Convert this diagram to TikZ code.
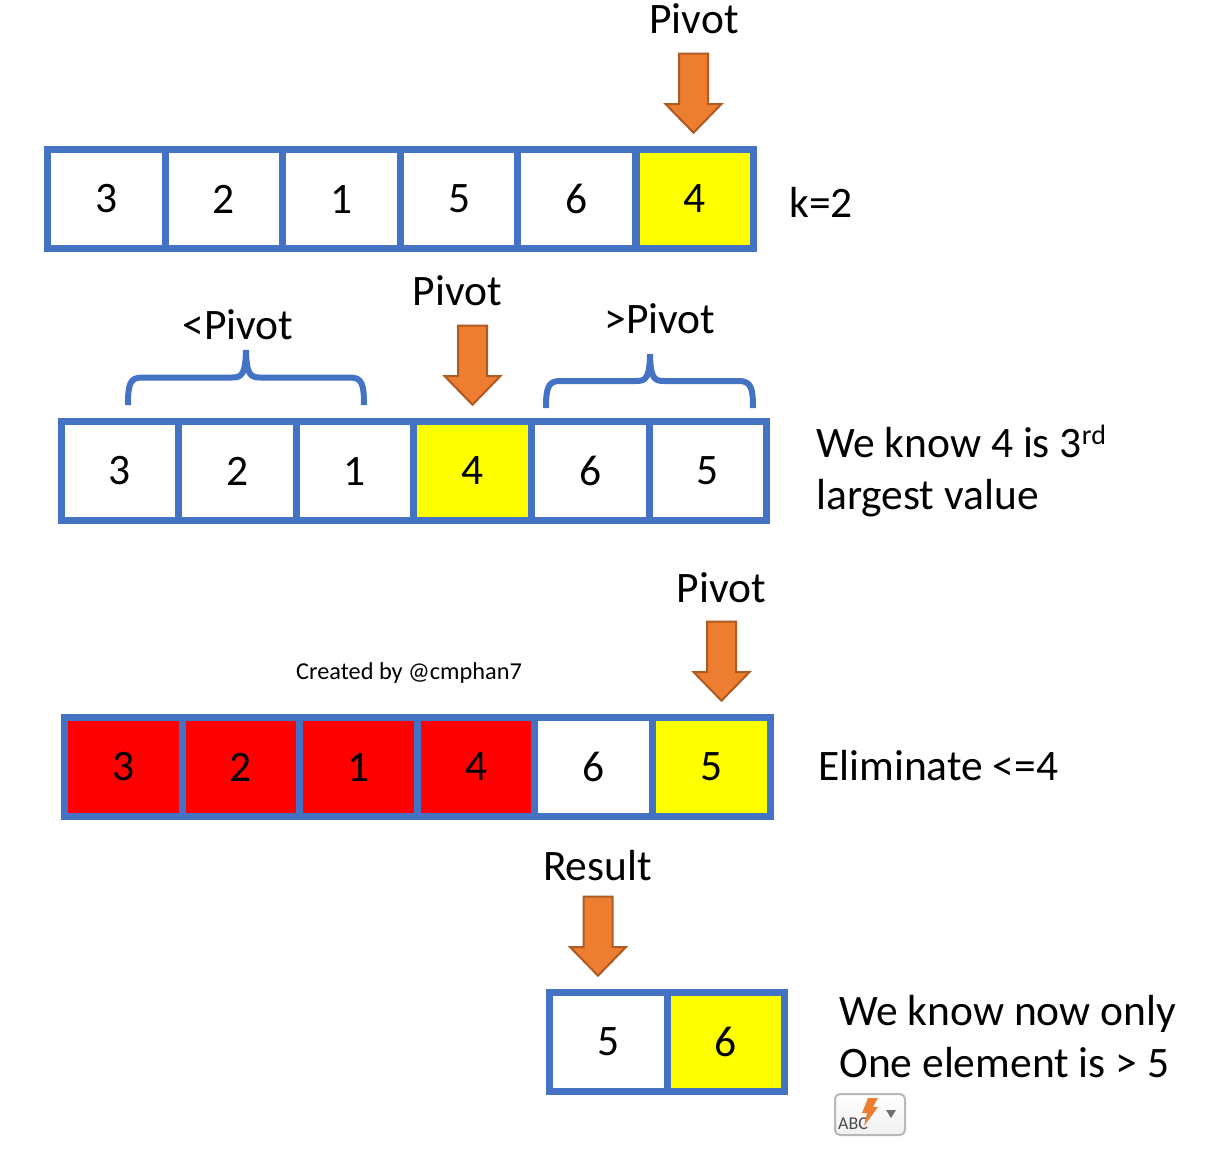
\documentclass[tikz,border=0pt]{standalone}
\usepackage{fontspec}
\setmainfont{Carlito}
\usetikzlibrary{calc}
\definecolor{cellblue}{HTML}{4472C4}
\definecolor{arrowfill}{HTML}{ED7D31}
\definecolor{arrowline}{HTML}{AE5A21}
\definecolor{iconline}{HTML}{B8B8B8}
\definecolor{icontext}{HTML}{4A4A4A}
\definecolor{hlyellow}{HTML}{FFFF00}
\definecolor{hlred}{HTML}{FF0000}
\tikzset{
  x=1pt,y=-1pt,
  cell/.style={draw=cellblue,line width=7pt,minimum width=117.6pt,minimum height=99pt,inner sep=0pt,font=\fontsize{43.5}{52}\selectfont,text=black},
  yel/.style={cell,fill=hlyellow},
  red/.style={cell,fill=hlred},
  lab/.style={inner sep=0pt,font=\fontsize{43.5}{52}\selectfont,text=black,align=left},
  pivotarrow/.style={draw=arrowline,fill=arrowfill,line width=2pt,miter limit=10},
  bracepath/.style={draw=cellblue,line width=6pt},
}
\newcommand{\pivdown}[2]{%
  \draw[pivotarrow] (#1-14.5,#2) -- (#1+14.5,#2) -- (#1+14.5,#2+50.5) -- (#1+28,#2+50.5) -- (#1,#2+79.2) -- (#1-28,#2+50.5) -- (#1-14.5,#2+50.5) -- cycle;}
\begin{document}
\begin{tikzpicture}
\useasboundingbox (0,0) rectangle (1206,1160);
% Row 1
\node[cell] (a1) at (106.3,199) {3};
\node[cell] (a2) at (223.9,199) {2};
\node[cell] (a3) at (341.5,199) {1};
\node[cell] (a4) at (459.1,199) {5};
\node[cell] (a5) at (576.7,199) {6};
\node[yel]  (a6) at (694.8,199) {4};
% Row 2
\node[cell] (b1) at (119.8,471) {3};
\node[cell] (b2) at (237.4,471) {2};
\node[cell] (b3) at (355,471) {1};
\node[yel]  (b4) at (472.6,471) {4};
\node[cell] (b5) at (590.2,471) {6};
\node[cell] (b6) at (707.8,471) {5};
% Row 3
\node[red]  (c1) at (123.3,767) {3};
\node[red]  (c2) at (240.9,767) {2};
\node[red]  (c3) at (358.5,767) {1};
\node[red]  (c4) at (476.1,767) {4};
\node[cell] (c5) at (593.7,767) {6};
\node[yel]  (c6) at (711.3,767) {5};
% Row 4
\node[cell] (d1) at (608.2,1042) {5};
\node[yel]  (d2) at (725.8,1042) {6};
% Arrows
\pivdown{693.5}{53.5}
\pivdown{472.5}{325.5}
\pivdown{721.5}{621.5}
\pivdown{598}{896.5}
% Braces
\draw[bracepath] (128,405) .. controls (128,384) and (130,377.5) .. (142,377.5) -- (232,377.5) .. controls (242,377.5) and (245.5,374) .. (246,350) .. controls (246.5,374) and (250,377.5) .. (260,377.5) -- (350,377.5) .. controls (362,377.5) and (364,384) .. (364,405);
\draw[bracepath] (546,408) .. controls (546,388) and (548,381) .. (560,381) -- (636,381) .. controls (646,381) and (649.5,378) .. (650,354) .. controls (650.5,378) and (654,381) .. (664,381) -- (739,381) .. controls (751,381) and (753,388) .. (753,408);
% Labels
\node[lab,anchor=center] (p1) at (694,19) {Pivot};
\node[lab,anchor=center] (p2) at (457.5,291) {Pivot};
\node[lab,anchor=center] (p3) at (721.5,588) {Pivot};
\node[lab,anchor=center] (r1) at (597.5,866) {Result};
\node[lab,anchor=center] (lt) at (238,325) {<Pivot};
\node[lab,anchor=center] (gt) at (660,319) {>Pivot};
\node[lab,anchor=west] (k) at (789,202) {k=2};
\node[lab,anchor=west] (t1) at (816,471) {We know 4 is 3\raisebox{0.62ex}{\fontsize{28}{28}\selectfont rd}\\largest value};
\node[lab,anchor=west] (t2) at (818,766) {Eliminate <=4};
\node[lab,anchor=west] (t3) at (839,1037) {We know now only\\One element is > 5};
\node[inner sep=0pt,font=\fontsize{24.3}{28}\selectfont,text=black] (cr) at (409,673) {Created by @cmphan7};
% Icon
\draw[iconline,line width=2pt,rounded corners=5pt,top color=white,bottom color=black!6] (835,1094) rectangle (905,1135);
\node[inner sep=0pt,font=\fontsize{18}{20}\selectfont,text=icontext,anchor=west] (abc) at (838,1124) {ABC};
\fill[arrowfill] (868,1098) -- (878,1098) -- (873,1107) -- (878,1107) -- (864,1126) -- (867,1113) -- (862,1113) -- cycle;
\fill[icontext!80] (886,1110) -- (896,1110) -- (891,1118) -- cycle;
\end{tikzpicture}
\end{document}
